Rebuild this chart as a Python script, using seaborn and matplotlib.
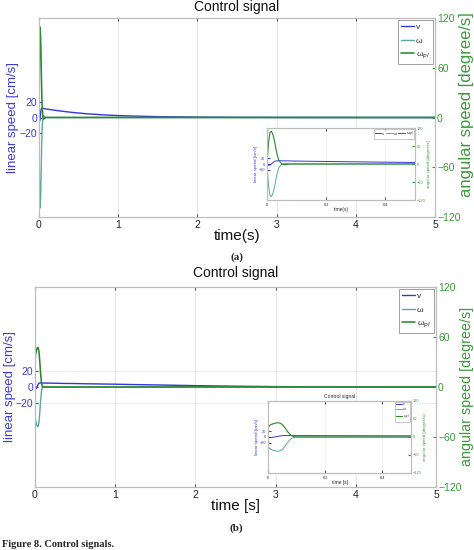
import matplotlib
matplotlib.use("Agg")
import matplotlib.pyplot as plt
import seaborn as sns

# time grid shared by both simulations (s)
time_s = [0, 0.005, 0.01, 0.015, 0.02, 0.025, 0.03, 0.035, 0.04, 0.05,
          0.06, 0.07, 0.08, 0.09, 0.1, 0.15, 0.2, 0.3, 0.4, 0.5,
          0.6, 0.8, 1.0, 1.2, 1.5, 2.0, 2.5, 3.0, 4.0, 5.0]

# (a) linear speed [cm/s], angular speeds [degree/s]
v_a = [0, -5, -4, 0, 5, 9, 11, 11.5, 11.6, 11.5,
       11.3, 11.1, 10.9, 10.7, 10.5, 9.8, 9.1, 7.8, 6.6, 5.6,
       4.7, 3.4, 2.4, 1.8, 1.1, 0.5, 0.2, 0.1, 0, 0]
w_a = [0, -70, -105, -109, -98, -78, -52, -28, -12, 0,
       2, 1, 0, 0, 0, 0, 0, 0, 0, 0,
       0, 0, 0, 0, 0, 0, 0, 0, 0, 0]
wpl_a = [0, 70, 105, 109, 98, 78, 52, 28, 12, 0,
         -2, -1, 0, 0, 0, 0, 0, 0, 0, 0,
         0, 0, 0, 0, 0, 0, 0, 0, 0, 0]

# (b)
v_b = [0, -1.5, -2, -1.5, -0.5, 0.5, 1.5, 2.5, 3.5, 4.8,
       5.2, 5.2, 5.1, 5.0, 5.0, 4.9, 4.8, 4.6, 4.4, 4.3,
       4.1, 3.8, 3.5, 3.1, 2.6, 1.7, 1.0, 0.5, 0.1, 0]
w_b = [-30, -38, -41, -43, -45, -46, -47, -47.5, -47, -42,
       -30, -16, -6, -1, 0, 0, 0, 0, 0, 0,
       0, 0, 0, 0, 0, 0, 0, 0, 0, 0]
wpl_b = [30, 38, 41, 43, 45, 46, 47, 47.5, 47, 42,
         30, 16, 6, 1, 0, 0, 0, 0, 0, 0,
         0, 0, 0, 0, 0, 0, 0, 0, 0, 0]

left_ticks = [-20, 0, 20]
right_ticks = [-120, -60, 0, 60, 120]
x_ticks = [0, 1, 2, 3, 4, 5]
inset_x_ticks = [0, 0.2, 0.4]
legend_labels = ["v", "ω", "ω$_{pl}$"]

C_V = "#3434e0"
C_W = "#5aa89e"
C_WPL = "#2a8a2a"
C_LEFT = "#3b3bdc"
C_RIGHT = "#3a9a3a"
C_SPINE = "#bdbdbd"

sns.set_style("white")
plt.rcParams["font.family"] = ["Liberation Sans", "DejaVu Sans"]

fig = plt.figure(figsize=(4.74, 5.5), dpi=100)
W, H = 474, 550


def rect(x0, y0, x1, y1):
    # pixel box (top-left origin) -> figure fraction
    return [x0 / W, 1 - y1 / H, (x1 - x0) / W, (y1 - y0) / H]


def draw_lines(ax, ax2, v, w, wpl, lw):
    sns.lineplot(x=time_s, y=v, ax=ax, color=C_V, lw=lw, legend=False)
    sns.lineplot(x=time_s, y=w, ax=ax2, color=C_W, lw=lw, legend=False)
    sns.lineplot(x=time_s, y=wpl, ax=ax2, color=C_WPL, lw=lw * 1.15, legend=False)


def style_axes(ax, ax2, xmax, xt, fs, left_spine=C_SPINE):
    ax.set_xlim(0, xmax)
    ax.set_ylim(-125, 125)
    ax2.set_ylim(-120, 120)
    ax.set_xticks(xt)
    ax.set_yticks(left_ticks)
    ax2.set_yticks(right_ticks)
    ax.set_xticklabels([f"{t:g}" for t in xt])
    for a in (ax, ax2):
        for s in a.spines.values():
            s.set_color(C_SPINE)
            s.set_linewidth(0.8)
    ax.spines["left"].set_color(left_spine)
    ax2.spines["left"].set_color(left_spine)
    ax.tick_params(axis="x", direction="in", length=2, labelsize=fs, colors="#555555",
                   labelcolor="#222222", pad=2, bottom=True, top=True)
    ax.tick_params(axis="y", direction="in", length=2, labelsize=fs, colors=C_LEFT,
                   labelcolor=C_LEFT, pad=1.5, left=True)
    ax2.tick_params(axis="y", direction="in", length=2, labelsize=fs, colors=C_RIGHT,
                    labelcolor=C_RIGHT, pad=1.5, right=True)
    ax.set_xlabel("")
    ax.set_ylabel("")
    ax2.set_ylabel("")


def main_panel(box, v, w, wpl, title, xlabel, title_y, lab_fs_r, left_spine,
               leftlab_x, rightlab_x, rightlab_y, hgrid):
    ax = fig.add_axes(rect(*box))
    ax2 = ax.twinx()
    ax.set_zorder(1)
    ax2.set_zorder(2)
    ax.patch.set_facecolor("white")
    ax2.patch.set_visible(False)
    draw_lines(ax, ax2, v, w, wpl, 1.0)
    style_axes(ax, ax2, 5, x_ticks, 7.5, left_spine)
    for t in [1, 2, 3, 4]:
        ax.axvline(t, color="#e4e4e4", lw=0.7, zorder=0)
    if hgrid:
        for yv in left_ticks:
            ax.axhline(yv, color="#ececf6", lw=0.7, zorder=0)
    x0, y0, x1, y1 = box
    fig.text((x0 + x1) / 2 / W, 1 - title_y / H, title, ha="center", va="center",
             fontsize=10, color="#111111")
    ax.set_xlabel(xlabel, fontsize=11, color="#111111")
    ax.xaxis.label.set_va("center")
    ax.xaxis.set_label_coords(0.5, -19 / (y1 - y0))
    ax.set_ylabel("linear speed [cm/s]", fontsize=9.5, color=C_LEFT)
    ax.yaxis.label.set_rotation_mode("default")
    ax.yaxis.label.set_va("center")
    ax.yaxis.set_label_coords((leftlab_x - x0) / (x1 - x0), 0.5)
    ax2.set_ylabel("angular speed [degree/s]", fontsize=lab_fs_r, color=C_RIGHT)
    ax2.yaxis.label.set_rotation_mode("default")
    ax2.yaxis.label.set_va("center")
    ax2.yaxis.set_label_coords((rightlab_x - x0) / (x1 - x0), (y1 - rightlab_y) / (y1 - y0))
    handles = ax.get_lines()[:1] + ax2.get_lines()[:2]
    leg = ax2.legend(handles, legend_labels, loc="upper right",
                     fontsize=6, frameon=True, fancybox=False, edgecolor="#888888",
                     handlelength=1.6, handletextpad=0.25, borderpad=0.35,
                     labelspacing=0.7, borderaxespad=0.25)
    leg.get_frame().set_linewidth(0.7)
    return ax


def inset_panel(box, v, w, wpl, xlabel, title, horiz):
    ax = fig.add_axes(rect(*box))
    ax2 = ax.twinx()
    ax.set_zorder(5)
    ax2.set_zorder(6)
    ax.patch.set_facecolor("white")
    ax2.patch.set_visible(False)
    draw_lines(ax, ax2, v, w, wpl, 0.7)
    style_axes(ax, ax2, 0.5, inset_x_ticks, 2.8)
    ax.set_ylim(-130, 130)
    for t in inset_x_ticks[1:]:
        ax.axvline(t, color="#ededed", lw=0.5, zorder=0)
    ax.set_xlabel(xlabel, fontsize=3.5, labelpad=0.5)
    ax.set_ylabel("linear speed [cm/s]", fontsize=3.2, color=C_LEFT, labelpad=0.5)
    ax2.set_ylabel("angular speed [degree/s]", fontsize=3.2, color=C_RIGHT, labelpad=0.5)
    if title:
        ax.set_title(title, fontsize=3.6, pad=2)
    handles = ax.get_lines()[:1] + ax2.get_lines()[:2]
    if horiz:
        leg = ax2.legend(handles, legend_labels, loc="upper right",
                         ncol=3, fontsize=3, frameon=True, fancybox=False,
                         edgecolor="#888888", handlelength=1.6, handletextpad=0.2,
                         columnspacing=0.4, borderpad=0.2, borderaxespad=0.15)
    else:
        leg = ax2.legend(handles, legend_labels, loc="upper right",
                         fontsize=2.6, frameon=True, fancybox=False, edgecolor="#888888",
                         handlelength=1.6, handletextpad=0.2, borderpad=0.2,
                         labelspacing=0.3, borderaxespad=0.15)
    leg.get_frame().set_linewidth(0.4)


main_panel((39, 18, 435, 217), v_a, w_a, wpl_a, "Control signal", "time(s)", 7,
           12, C_SPINE, 13, 467, 105, False)
inset_panel((267, 128, 415, 200), v_a, w_a, wpl_a, "time(s)", None, True)

main_panel((35, 287, 436, 487), v_b, w_b, wpl_b, "Control signal", "time [s]", 273,
           10.3, "#b4b4ee", 10, 467, 386, True)
inset_panel((268, 401, 411, 473), v_b, w_b, wpl_b, "time [s]", "Control signal", False)

serif = ["Liberation Serif", "DejaVu Serif"]
fig.text(237 / W, 1 - 257 / H, "(a)", ha="center", va="center", fontsize=8,
         fontweight="bold", family=serif)
fig.text(236 / W, 1 - 528 / H, "(b)", ha="center", va="center", fontsize=8,
         fontweight="bold", family=serif)
fig.text(2 / W, 1 - 549 / H, "Figure 8. Control signals.", ha="left", va="bottom",
         fontsize=7.5, fontweight="bold", family=serif)

fig.savefig("out.png", dpi=100)
